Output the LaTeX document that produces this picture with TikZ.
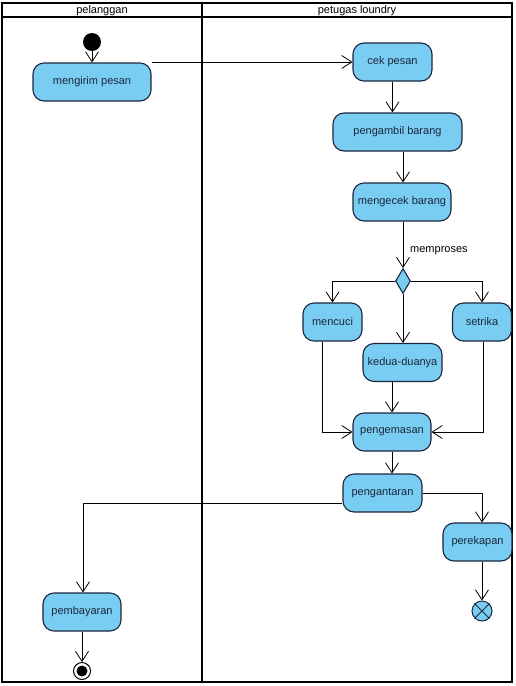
\documentclass[tikz,border=0pt]{standalone}
\usepackage{fontspec}
\setmainfont{Liberation Sans}
\usetikzlibrary{arrows.meta,shapes.geometric,calc}
\definecolor{actfill}{RGB}{121,205,243}
\definecolor{actline}{RGB}{28,38,58}
\begin{document}
\begin{tikzpicture}[x=1pt,y=-1pt,
  act/.style={draw=actline,fill=actfill,line width=1.1pt,rounded corners=11pt,
    minimum height=38pt,inner sep=0pt,font=\fontsize{11}{13}\selectfont,text=actline},
  flow/.style={draw=black,line width=0.8pt,-{Straight Barb[length=10pt,width=13pt,line width=0.8pt]}},
  lane/.style={draw=black,line width=1.8pt},
  hdr/.style={font=\fontsize{11}{13}\selectfont,inner sep=0pt}]
\useasboundingbox (0,0) rectangle (516,686);
\fill[white] (0,0) rectangle (516,686);
% swimlanes
\draw[lane] (2,3) rectangle (512,682);
\draw[lane] (2,17) -- (512,17);
\draw[lane] (202,3) -- (202,682);
\node[hdr] (h1) at (102,11) {pelanggan};
\node[hdr] (h2) at (357,11) {petugas loundry};
% nodes
\node[circle,fill=black,minimum size=18pt,inner sep=0pt] (start) at (92,42) {};
\node[act,minimum width=118pt] (kirim) at (92,82) {mengirim pesan};
\node[act,minimum width=79pt] (cek) at (392.5,62) {cek pesan};
\node[act,minimum width=129pt] (ambil) at (397.5,132) {pengambil barang};
\node[act,minimum width=98pt] (ngecek) at (402,202) {mengecek barang};
\node[diamond,draw=actline,fill=actfill,line width=1.1pt,minimum width=15pt,minimum height=25pt,inner sep=0pt] (dec) at (403,281) {};
\node[anchor=west,inner sep=0pt,font=\fontsize{11}{13}\selectfont] (lbl) at (410,251) {memproses};
\node[act,minimum width=59pt] (cuci) at (332.5,322) {mencuci};
\node[act,minimum width=59pt] (setrika) at (482,322) {setrika};
\node[act,minimum width=79pt] (kedua) at (402.5,362.5) {kedua-duanya};
\node[act,minimum width=78pt] (kemas) at (392,432) {pengemasan};
\node[act,minimum width=79pt] (antar) at (382.5,493) {pengantaran};
\node[act,minimum width=69pt] (rekap) at (477.5,542) {perekapan};
\node[act,minimum width=78pt] (bayar) at (82,612) {pembayaran};
\node[circle,draw=black,fill=white,line width=1pt,minimum size=17pt,inner sep=0pt] (end) at (82,671) {};
\fill[black] (end.center) circle (5.5pt);
\node[circle,draw=actline,fill=actfill,line width=1pt,minimum size=20pt,inner sep=0pt] (fend) at (482,611) {};
\draw[actline,line width=1pt] (fend.north west) -- (fend.south east) (fend.north east) -- (fend.south west);
% edges
\draw[flow] (start) -- (start |- kirim.north);
\draw[flow] (cek.west -| kirim.east) -- (cek.west);
\draw[flow] (cek.south) -- (ambil.north -| cek.south);
\coordinate (xa) at (403,0);
\draw[flow] (xa |- ambil.south) -- (xa |- ngecek.north);
\draw[flow] (xa |- ngecek.south) -- (dec.north);
\draw[flow] (dec.west) -| (cuci.north);
\draw[flow] (dec.east) -| (setrika.north);
\draw[flow] (dec.south) -- (dec.south |- kedua.north);
\coordinate (xc) at (322,0);
\coordinate (xs) at (483,0);
\draw[flow] (xc |- cuci.south) |- (kemas.west);
\draw[flow] (xs |- setrika.south) |- (kemas.east);
\draw[flow] (kemas.north |- kedua.south) -- (kemas.north);
\draw[flow] (kemas.south) -- (kemas.south |- antar.north);
\coordinate (xr) at (482,0);
\draw[flow] (antar.east) -| (xr |- rekap.north);
\coordinate (yb) at (0,503);
\draw[flow] (antar.west |- yb) -| (83,0 |- bayar.north);
\draw[flow] (xr |- rekap.south) -- (fend.north);
\draw[flow] (bayar.south) -- (end.north);
\end{tikzpicture}
\end{document}
